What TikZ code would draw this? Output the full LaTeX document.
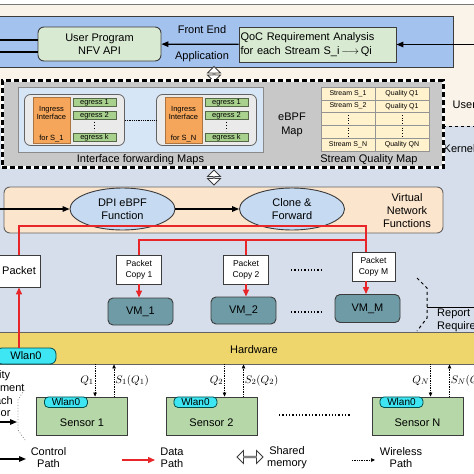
\documentclass[tikz,border=0pt]{standalone}
\usepackage{fontspec}
\setmainfont{Liberation Sans}
\usetikzlibrary{arrows.meta,shapes.geometric,shapes.arrows,positioning,calc}

\definecolor{userbg}{HTML}{FAF3EA}
\definecolor{kernbg}{HTML}{D5DEEA}
\definecolor{frontblue}{HTML}{A4C2EE}
\definecolor{palegreen}{HTML}{D9EAD3}
\definecolor{mapgray}{HTML}{C8C8C8}
\definecolor{ifblue}{HTML}{D6E6F6}
\definecolor{ifgray}{HTML}{EAEAEA}
\definecolor{ingress}{HTML}{F5A65B}
\definecolor{egress}{HTML}{A9D18E}
\definecolor{tablecell}{HTML}{FFF2CC}
\definecolor{vnfpeach}{HTML}{FCE5CD}
\definecolor{ellblue}{HTML}{C6DAF1}
\definecolor{vmteal}{HTML}{6E9BA6}
\definecolor{hwyellow}{HTML}{EFD66C}
\definecolor{wlancyan}{HTML}{3DE6F2}
\definecolor{sensorgreen}{HTML}{B6D7A8}
\definecolor{datared}{HTML}{E8262A}
\definecolor{edge}{HTML}{3C3C3C}

\begin{document}
\begin{tikzpicture}[x=1pt, y=-1pt,
  font=\fontsize{11}{13.5}\selectfont,
  ctrl/.style={-{Triangle[length=7pt,width=5.5pt]}, line width=1.3pt},
  ctrlline/.style={line width=1.3pt},
  data/.style={-{Triangle[length=7pt,width=6pt]}, line width=1.3pt, datared},
  dataline/.style={line width=1.3pt, datared},
  wireless/.style={-{Triangle[length=4pt,width=3.5pt]}, densely dotted, line width=0.7pt},
  dotrow/.style={dash pattern=on 1.3pt off 2pt, line width=1.3pt},
  celldots/.style={dash pattern=on 1pt off 1.8pt, line width=1pt},
  tinytext/.style={font=\fontsize{7.5}{8.5}\selectfont},
  frontbox/.style={draw=edge, line width=0.9pt, fill=frontblue, inner sep=0pt},
  greenbox/.style={draw=edge, line width=0.9pt, fill=palegreen, align=center, inner sep=1.5pt},
  ebpfbox/.style={fill=mapgray, draw=white, line width=3pt, inner sep=0pt,
    postaction={draw=black, line width=3pt, dash pattern=on 5pt off 3pt}},
  ifmap/.style={draw=edge!60, line width=0.8pt, fill=ifblue, inner sep=0pt},
  ifgroup/.style={draw=edge!80, line width=0.8pt, fill=ifgray, rounded corners=6pt,
    minimum width=100pt, minimum height=51pt, inner sep=0pt},
  ingressbox/.style={draw=ingress!70!black, line width=0.5pt, fill=ingress,
    minimum width=37pt, minimum height=46pt, inner sep=0pt},
  egressbox/.style={tinytext, draw=egress!50!black, line width=0.6pt, fill=egress,
    minimum width=43pt, minimum height=8.5pt, inner sep=0pt},
  sqcell/.style={font=\fontsize{7}{8}\selectfont, draw=edge!55, line width=0.6pt,
    fill=tablecell, minimum width=54pt, minimum height=12.8pt, inner sep=0pt},
  shmem/.style={double arrow, draw=edge, fill=white, line width=0.8pt,
    double arrow head extend=3pt, minimum width=13pt, minimum height=15pt, inner sep=0pt},
  vnfbox/.style={draw=edge!80, line width=0.9pt, fill=vnfpeach, rounded corners=6pt, inner sep=0pt},
  fn/.style={ellipse, draw=edge, line width=0.9pt, fill=ellblue, minimum width=105pt,
    minimum height=42pt, inner sep=0pt, align=center, font=\fontsize{11}{13}\selectfont},
  pktbox/.style={draw=edge, line width=0.9pt, fill=white, align=center, inner sep=0pt},
  pktsmall/.style={font=\fontsize{8.5}{11}\selectfont, minimum width=45pt, minimum height=29pt},
  vm/.style={draw=edge, line width=0.9pt, fill=vmteal, rounded corners=5pt,
    minimum width=65pt, minimum height=27pt, inner sep=0pt},
  hwband/.style={draw=edge!80, line width=0.9pt, fill=hwyellow, inner sep=0pt},
  wlanbox/.style={draw=teal!60!black, line width=0.8pt, fill=wlancyan, rounded corners=6pt, inner sep=0pt},
  wlansmall/.style={wlanbox, rounded corners=4pt, font=\fontsize{10}{10}\selectfont,
    minimum width=43pt, minimum height=10.5pt},
  sensorbox/.style={draw=edge, line width=0.9pt, fill=sensorgreen,
    minimum width=91pt, minimum height=38pt, inner sep=0pt},
]
  \useasboundingbox (0,0) rectangle (474,474);
  \clip (0,0) rectangle (474,474);

  % backgrounds: user space, kernel, hardware side
  \fill[white] (0,0) rectangle (474,474);
  \fill[userbg] (0,5) rectangle (474,126);
  \fill[kernbg] (0,126) rectangle (474,332);
  \draw[edge!70, line width=1pt] (0,4) -- (474,4);
  \draw[dashed, line width=1pt] (443,126) -- (474,126);
  \node[anchor=west, inner sep=0.5pt] at (452,105) {User};
  \node[anchor=west, inner sep=0.5pt] at (443,149) {Kernel};

  % front end
  \node[frontbox, minimum width=460pt, minimum height=51pt] (frontend) at (223,41.5) {};
  \node[greenbox, rounded corners=6pt, minimum width=123pt, minimum height=34pt] (userprog) at (99.5,44) {User Program\\NFV API};
  \node[greenbox, text width=154pt, align=left, minimum height=35pt] (qoc) at (317.5,44.5) {QoC Requirement Analysis\\for each Stream S\_i$\,\longrightarrow\,$Qi};
  \draw[ctrl] (qoc) -- (userprog);
  \node at (202,30) {Front End};
  \node at (202,57) {Application};
  \coordinate (qocin) at (480,44.5);
  \draw[ctrl] (qocin) -- (qoc);
  \coordinate (stub1) at (-5,40);
  \coordinate (stub2) at (-5,52);
  \draw[ctrlline] (stub1) -- (stub1 -| userprog.west);
  \draw[ctrlline] (stub2) -- (stub2 -| userprog.west);

  \node[shmem, rotate=90] (shm1) at (214,74) {};

  % eBPF maps
  \node[ebpfbox, minimum width=441pt, minimum height=87pt] (ebpf) at (222.5,124) {};
  \node[ifmap, minimum width=245pt, minimum height=65pt] (ifmaps) at (140.5,119.5) {};
  \node[below=0pt of ifmaps, inner sep=2pt] {Interface forwarding Maps};
  \foreach \g/\x/\s in {1/74.5/1, 2/206.5/N} {
    \node[ifgroup] (ifgroup\g) at (\x,120) {};
    \node[ingressbox] (ingress\g) at ($(ifgroup\g.center)+(-23,0)$) {};
    \node[tinytext, align=center] at ($(ingress\g.north)+(0,16)$) {Ingress\\Interface};
    \node[tinytext] at ($(ingress\g.south)+(0,-5)$) {for S\_\s};
    \node[egressbox] (egA\g) at ($(ifgroup\g.center)+(20,-17.5)$) {egress 1};
    \node[egressbox] (egB\g) at ($(ifgroup\g.center)+(20,-4.5)$) {egress 2};
    \node[egressbox] (egK\g) at ($(ifgroup\g.center)+(20,17.5)$) {egress k};
    \draw[dotrow, line width=1.2pt, shorten <=1.5pt, shorten >=1.5pt] (egB\g) -- (egK\g);
  }
  \draw[densely dotted, line width=0.8pt] (ifgroup1) -- (ifgroup2);
  \node[align=center] at (292,125) {eBPF\\Map};
  \foreach \r/\sa/\qa in {1/{Stream S\_1}/{Quality Q1}, 2/{Stream S\_2}/{Quality Q1},
      3/{}/{}, 4/{}/{}, 5/{Stream S\_N}/{Quality QN}} {
    \node[sqcell] (sqs\r) at (348,{80.6+12.8*\r}) {\sa};
    \node[sqcell] (sqq\r) at (402,{80.6+12.8*\r}) {\qa};
  }
  \foreach \r in {3,4} {
    \draw[celldots] ([yshift=-2.5pt]sqs\r.north) -- ([yshift=2pt]sqs\r.south);
    \draw[celldots] ([yshift=-2.5pt]sqq\r.north) -- ([yshift=2pt]sqq\r.south);
  }
  \node at (369,160) {Stream Quality Map};

  \node[shmem, rotate=90] (shm2) at (214,177.5) {};

  % virtual network functions
  \node[vnfbox, minimum width=439pt, minimum height=46pt] (vnf) at (223.5,210) {};
  \node[fn] (dpi) at (122.5,209) {DPI eBPF\\Function};
  \node[fn] (clone) at (292,209) {Clone \&\\Forward};
  \node[align=center, font=\fontsize{11}{13}\selectfont] at (407,211) {Virtual\\Network\\Functions};
  \coordinate (dpiin) at (-5,209);
  \draw[ctrl] (dpiin) -- (dpi);
  \draw[ctrl] (dpi) -- (clone);

  % packets and VMs
  \node[pktbox, minimum width=42pt, minimum height=32pt] (packet) at (19,271) {Packet};
  \node[pktbox, pktsmall] (copy1) at (139,269.5) {Packet\\Copy 1};
  \node[pktbox, pktsmall] (copy2) at (246,269.5) {Packet\\Copy 2};
  \node[pktbox, pktsmall, minimum width=43pt] (copyM) at (373.5,266.5) {Packet\\Copy M};
  \node[vm] (vm1) at (140.5,311.5) {VM\_1};
  \node[vm] (vm2) at (243.5,310.5) {VM\_2};
  \node[vm, minimum height=28pt] (vmM) at (367.5,308.5) {VM\_M};
  \draw[dotrow] (291,270) -- (322,270);
  \draw[dotrow] (291,312) -- (322,312);

  \coordinate (split) at (366,226);
  \coordinate (branch) at (366,240);
  \draw[dataline] (packet.north) |- (split) -- (split |- copyM.north);
  \draw[dataline] (branch) -| (copy1.north);
  \draw[dataline] (copy2.north |- branch) -- (copy2.north);
  \draw[data] (copy1.south) -- (copy1.south |- vm1.north);
  \draw[data] (copy2.south) -- (copy2.south |- vm2.north);
  \draw[data] (copyM.south -| split) -- (vmM.north -| split);

  % report requirement
  \draw[dashed, line width=1pt] (417,278) -- (427,288) -- (427,318) -- (417,331);
  \coordinate (reportout) at (480,307);
  \draw[line width=1pt] (427,307) -- (reportout);
  \node[anchor=base west, inner sep=0pt] at (437,316) {Report};
  \node[anchor=base west, inner sep=0pt] at (437,329) {Requirement};

  % hardware
  \node[hwband, minimum width=482pt, minimum height=32pt] (hw) at (237,348) {};
  \node at (254,350) {Hardware};
  \node[wlanbox, minimum width=60pt, minimum height=16pt] (wlanhw) at (26,356) {Wlan0};
  \draw[data] (wlanhw.north -| packet) -- (packet.south);

  % sensors
  \foreach \n/\x/\lab in {1/82/1, 2/211.5/2, 3/417.5/N} {
    \node[sensorbox] (sensor\n) at (\x,416) {};
    \node at ($(sensor\n.center)+(0,7)$) {Sensor \lab};
    \node[wlansmall, anchor=north west] (wlan\n) at ($(sensor\n.north west)+(8,0)$) {Wlan0};
    \coordinate (qd\n) at ($(sensor\n.north west)+(59,0)$);
    \coordinate (su\n) at ($(sensor\n.north west)+(78,0)$);
    \draw[wireless] (qd\n |- hw.south) -- (qd\n) node[midway, left, inner sep=1pt] {$Q_\lab$};
    \draw[wireless] (su\n) -- (su\n |- hw.south) node[midway, right, inner sep=1pt] {$S_\lab(Q_\lab)$};
  }
  \draw[dotrow] (279,415) -- (350,415);

  \node[align=center, font=\fontsize{11}{12.7}\selectfont] (qreq) at (-7,394) {Quality\\Requirement\\for each\\Sensor};
  \coordinate (qreqout) at (-5,422);
  \coordinate (qreqtip) at (17,422);
  \draw[ctrl] (qreqout) -- (qreqtip);
  \draw[dotted, gray, line width=0.8pt] (24,390) -- (18,400) -- (18,430) -- (25,440);

  % legend
  \draw[ctrl] (-5,459) -- (26,459);
  \node[align=center, font=\fontsize{11}{12}\selectfont] at (48.5,458) {Control\\Path};
  \draw[data] (122,460) -- (155,460);
  \node[align=center, font=\fontsize{11}{12}\selectfont] at (172,458) {Data\\Path};
  \node[shmem, minimum height=26pt, minimum width=13pt] (shmlegend) at (250,457) {};
  \node[align=center, font=\fontsize{11}{12}\selectfont] at (287,458) {Shared\\memory};
  \draw[wireless] (352,460) -- (375,460);
  \node[align=center, font=\fontsize{11}{12}\selectfont] at (401,458) {Wireless\\Path};
\end{tikzpicture}
\end{document}
